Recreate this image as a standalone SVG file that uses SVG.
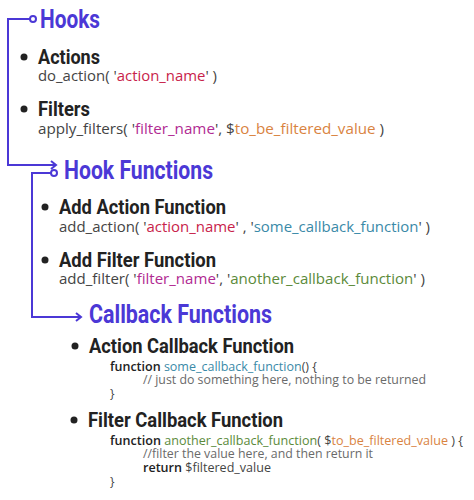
<svg xmlns="http://www.w3.org/2000/svg" width="474" height="500" viewBox="0 0 474 500">
<style>
.h{font-family:Roboto,"Liberation Sans",sans-serif;font-weight:700;fill:#4b38d6}
.t{font-family:Roboto,"Liberation Sans",sans-serif;font-weight:700;fill:#222}
.c{font-family:"Open Sans","Noto Sans",sans-serif;font-weight:400;fill:#444}
.k{font-weight:600;fill:#222}
.red{fill:#c8234a}.mag{fill:#b12a92}.org{fill:#d9833f}.teal{fill:#3a8aa8}.grn{fill:#5b8a3a}.cm{fill:#6a6a6a}
.ln{fill:none;stroke:#4b38d6;stroke-width:2}
.dot{fill:#222}
</style>
<defs>
<marker id="ar" markerWidth="8" markerHeight="10" refX="6" refY="5" orient="auto" markerUnits="userSpaceOnUse">
<path d="M1,1 L6,5 L1,9" fill="none" stroke="#4b38d6" stroke-width="2"/>
</marker>
</defs>
<rect width="474" height="500" fill="#fff"/>
<g id="connectors">
<path class="ln" d="M30,19 H8 V165 H56" marker-end="url(#ar)"/>
<circle class="ln" cx="33" cy="19" r="3" fill="#fff"/>
<path class="ln" d="M51,173 H32 V317 H81" marker-end="url(#ar)"/>
<circle class="ln" cx="54" cy="173" r="3" fill="#fff"/>
</g>
<g id="hooks">
<text class="h" x="40" y="28" font-size="26" textLength="60" lengthAdjust="spacingAndGlyphs">Hooks</text>
</g>
<g id="actions">
<circle class="dot" cx="24" cy="57" r="3.5"/>
<text class="t" x="38" y="64" font-size="21" textLength="62" lengthAdjust="spacingAndGlyphs">Actions</text>
<text class="c" x="38" y="81" font-size="15" textLength="179" lengthAdjust="spacingAndGlyphs">do_action( '<tspan class="red">action_name</tspan>' )</text>
</g>
<g id="filters">
<circle class="dot" cx="24" cy="109" r="3.5"/>
<text class="t" x="38" y="116" font-size="21" textLength="52" lengthAdjust="spacingAndGlyphs">Filters</text>
<text class="c" x="38" y="134" font-size="15" textLength="346" lengthAdjust="spacingAndGlyphs">apply_filters( '<tspan class="mag">filter_name</tspan>', $<tspan class="org">to_be_filtered_value</tspan> )</text>
</g>
<g id="hook-functions">
<text class="h" x="64" y="179" font-size="26" textLength="149" lengthAdjust="spacingAndGlyphs">Hook Functions</text>
</g>
<g id="add-action">
<circle class="dot" cx="45" cy="207" r="3.5"/>
<text class="t" x="59" y="214" font-size="21" textLength="167" lengthAdjust="spacingAndGlyphs">Add Action Function</text>
<text class="c" x="59" y="232" font-size="15" textLength="371" lengthAdjust="spacingAndGlyphs">add_action( '<tspan class="red">action_name</tspan>' , '<tspan class="teal">some_callback_function</tspan>' )</text>
</g>
<g id="add-filter">
<circle class="dot" cx="45" cy="260" r="3.5"/>
<text class="t" x="59" y="267" font-size="21" textLength="157" lengthAdjust="spacingAndGlyphs">Add Filter Function</text>
<text class="c" x="59" y="284" font-size="15" textLength="366" lengthAdjust="spacingAndGlyphs">add_filter( '<tspan class="mag">filter_name</tspan>', '<tspan class="grn">another_callback_function</tspan>' )</text>
</g>
<g id="callback-functions">
<text class="h" x="89" y="323" font-size="26" textLength="183" lengthAdjust="spacingAndGlyphs">Callback Functions</text>
</g>
<g id="action-callback">
<circle class="dot" cx="75" cy="346" r="3.5"/>
<text class="t" x="89" y="353" font-size="21" textLength="205" lengthAdjust="spacingAndGlyphs">Action Callback Function</text>
<text class="c" x="110" y="371" font-size="12" textLength="207" lengthAdjust="spacingAndGlyphs"><tspan class="k">function</tspan> <tspan class="teal">some_callback_function</tspan>() {</text>
<text class="c cm" x="143" y="384" font-size="12" textLength="283" lengthAdjust="spacingAndGlyphs">// just do something here, nothing to be returned</text>
<text class="c" x="110" y="398" font-size="12">}</text>
</g>
<g id="filter-callback">
<circle class="dot" cx="74" cy="420" r="3.5"/>
<text class="t" x="88" y="427" font-size="21" textLength="195" lengthAdjust="spacingAndGlyphs">Filter Callback Function</text>
<text class="c" x="110" y="445" font-size="12" textLength="353" lengthAdjust="spacingAndGlyphs"><tspan class="k">function</tspan> <tspan class="grn">another_callback_function</tspan>( $<tspan class="org">to_be_filtered_value</tspan> ) {</text>
<text class="c cm" x="143" y="458" font-size="12" textLength="230" lengthAdjust="spacingAndGlyphs">//filter the value here, and then return it</text>
<text class="c" x="143" y="472" font-size="12" textLength="128" lengthAdjust="spacingAndGlyphs"><tspan class="k">return</tspan> $filtered_value</text>
<text class="c" x="110" y="486" font-size="12">}</text>
</g>
</svg>
